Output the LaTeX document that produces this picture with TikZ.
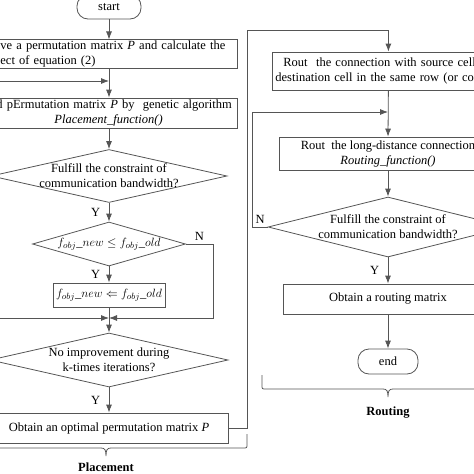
\documentclass[tikz,border=0pt]{standalone}
\usepackage{fontspec}
\setmainfont{Liberation Serif}
\usetikzlibrary{shapes.geometric,arrows.meta,positioning,calc}
\definecolor{lineg}{RGB}{85,85,85}

\begin{document}
\begin{tikzpicture}[x=1pt, y=-1pt, font=\fontsize{12.5}{15}\selectfont,
    box/.style={draw=lineg, line width=0.8pt, inner xsep=3pt, inner ysep=1pt},
    dia/.style={draw=lineg, line width=0.8pt, diamond, inner sep=0pt},
    term/.style={draw=lineg, line width=0.8pt, rounded corners=11pt},
    arr/.style={draw=lineg, line width=0.8pt, -{Latex[length=8pt,width=6pt]}},
    brc/.style={draw=lineg, line width=0.8pt}]
    \useasboundingbox (0,0) rectangle (474,474);
    \clip (0,0) rectangle (474,474);

    % placement column
    \node [term, minimum width=64pt, minimum height=24pt] (start) at (109,7) {start};
    \node [box, anchor=west, text width=234pt, align=left, minimum height=28pt] (give) at (-3,54)
        {ve a permutation matrix \textit{P} and calculate the\\ect of equation (2)};
    \node [box, anchor=west, text width=234pt, align=left, minimum height=30pt] (ga) at (-3,113)
        {\hspace*{-4pt}\mbox{d pErmutation matrix \textit{P} by~ genetic algorithm}\\\hspace*{54pt}\textit{Placement\_function()}};
    \node [dia, minimum width=236pt, minimum height=53pt] (cons) at (109,176) {};
    \node [align=center] (consT) at (cons) {Fulfill the constraint of\\communication bandwidth?};
    \node [dia, minimum width=153pt, minimum height=44pt] (cmp) at (109,244) {};
    \node (cmpT) at (cmp) {$f_{obj}\_new \leq f_{obj}\_old$};
    \node [box, minimum width=108pt, minimum height=24pt] (upd) at (109,295) {$f_{obj}\_new \Leftarrow f_{obj}\_old$};
    \node [dia, minimum width=238pt, minimum height=54pt] (impr) at (109,360) {};
    \node [align=center] (imprT) at (impr) {No improvement during\\k-times iterations?};
    \node [box, minimum width=238pt, minimum height=30pt] (opt) at (109,428) {Obtain an optimal permutation matrix \textit{P}};

    % routing column
    \node [box, anchor=west, text width=226pt, align=left, minimum height=38pt] (rconn) at (272,71)
        {\hspace*{8pt}Rout~ the connection with source cell\\destination cell in the same row (or col};
    \node [box, minimum width=218pt, minimum height=33pt, align=center] (rlong) at (388,153.5)
        {Rout~ the long-distance connection\\\textit{Routing\_function()}};
    \node [dia, minimum width=240pt, minimum height=60pt] (rcons) at (388,227) {};
    \node [align=center] (rconsT) at (rcons) {Fulfill the constraint of\\communication bandwidth?};
    \node [box, minimum width=210pt, minimum height=30pt] (rmat) at (388,299) {Obtain a routing matrix};
    \node [term, minimum width=60pt, minimum height=25pt] (stop) at (388,361.5) {end};

    \coordinate (inA) at (-5,81);
    \coordinate (inB) at (-5,318);
    \coordinate (mrg) at (109,318);
    \coordinate (up) at (247,30);
    \coordinate (back) at (388,112);

    % connectors
    \draw [arr] (start) -- (start |- give.north);
    \draw [arr] (start |- give.south) -- (start |- ga.north);
    \draw [arr] (inA) -- (inA -| start);
    \draw [arr] (start |- ga.south) -- (cons.north);
    \draw [arr] (cons.south) -- node [left=5pt] {Y} (cmp.north);
    \draw [arr] (cmp.south) -- node [left=5pt] {Y} (upd.north);
    \draw [lineg, line width=0.8pt] (upd.south) -- (mrg);
    \draw [arr] (cmp.east) -- node [above] {N} ++(27,0) |- (mrg);
    \draw [arr] (inB) -- (mrg);
    \draw [arr] (mrg) -- (impr.north);
    \draw [arr] (impr.south) -- node [left=5pt] {Y} (opt.north);
    \draw [arr] (opt.east) -| (up) -| (rconn.north);
    \draw [arr] (rconn.south) -- (rlong.north);
    \draw [arr] (rcons.west) -- node [above] {N} ++(-15,0) |- (back);
    \draw [arr] (rlong.south) -- (rcons.north);
    \draw [arr] (rcons.south) -- node [left=5pt] {Y} (rmat.north);
    \draw [arr] (rmat.south) -- (stop.north);

    % braces
    \draw [brc] (247,434) -- (247,444) .. controls (247,448) .. (243,448) -- (111,448)
        .. controls (107,448) and (106,450) .. (106,456) .. controls (106,450) and (105,448) .. (101,448) -- (-20,448);
    \node [font=\fontsize{12.5}{15}\selectfont\bfseries] (plc) at (106,467) {Placement};
    \draw [brc] (262,375) -- (262,385) .. controls (262,389) .. (266,389) -- (383,389)
        .. controls (387,389) and (388,391) .. (388,397) .. controls (388,391) and (389,389) .. (393,389) -- (490,389);
    \node [font=\fontsize{12.5}{15}\selectfont\bfseries] (rtg) at (388,413) {Routing};
\end{tikzpicture}
\end{document}
